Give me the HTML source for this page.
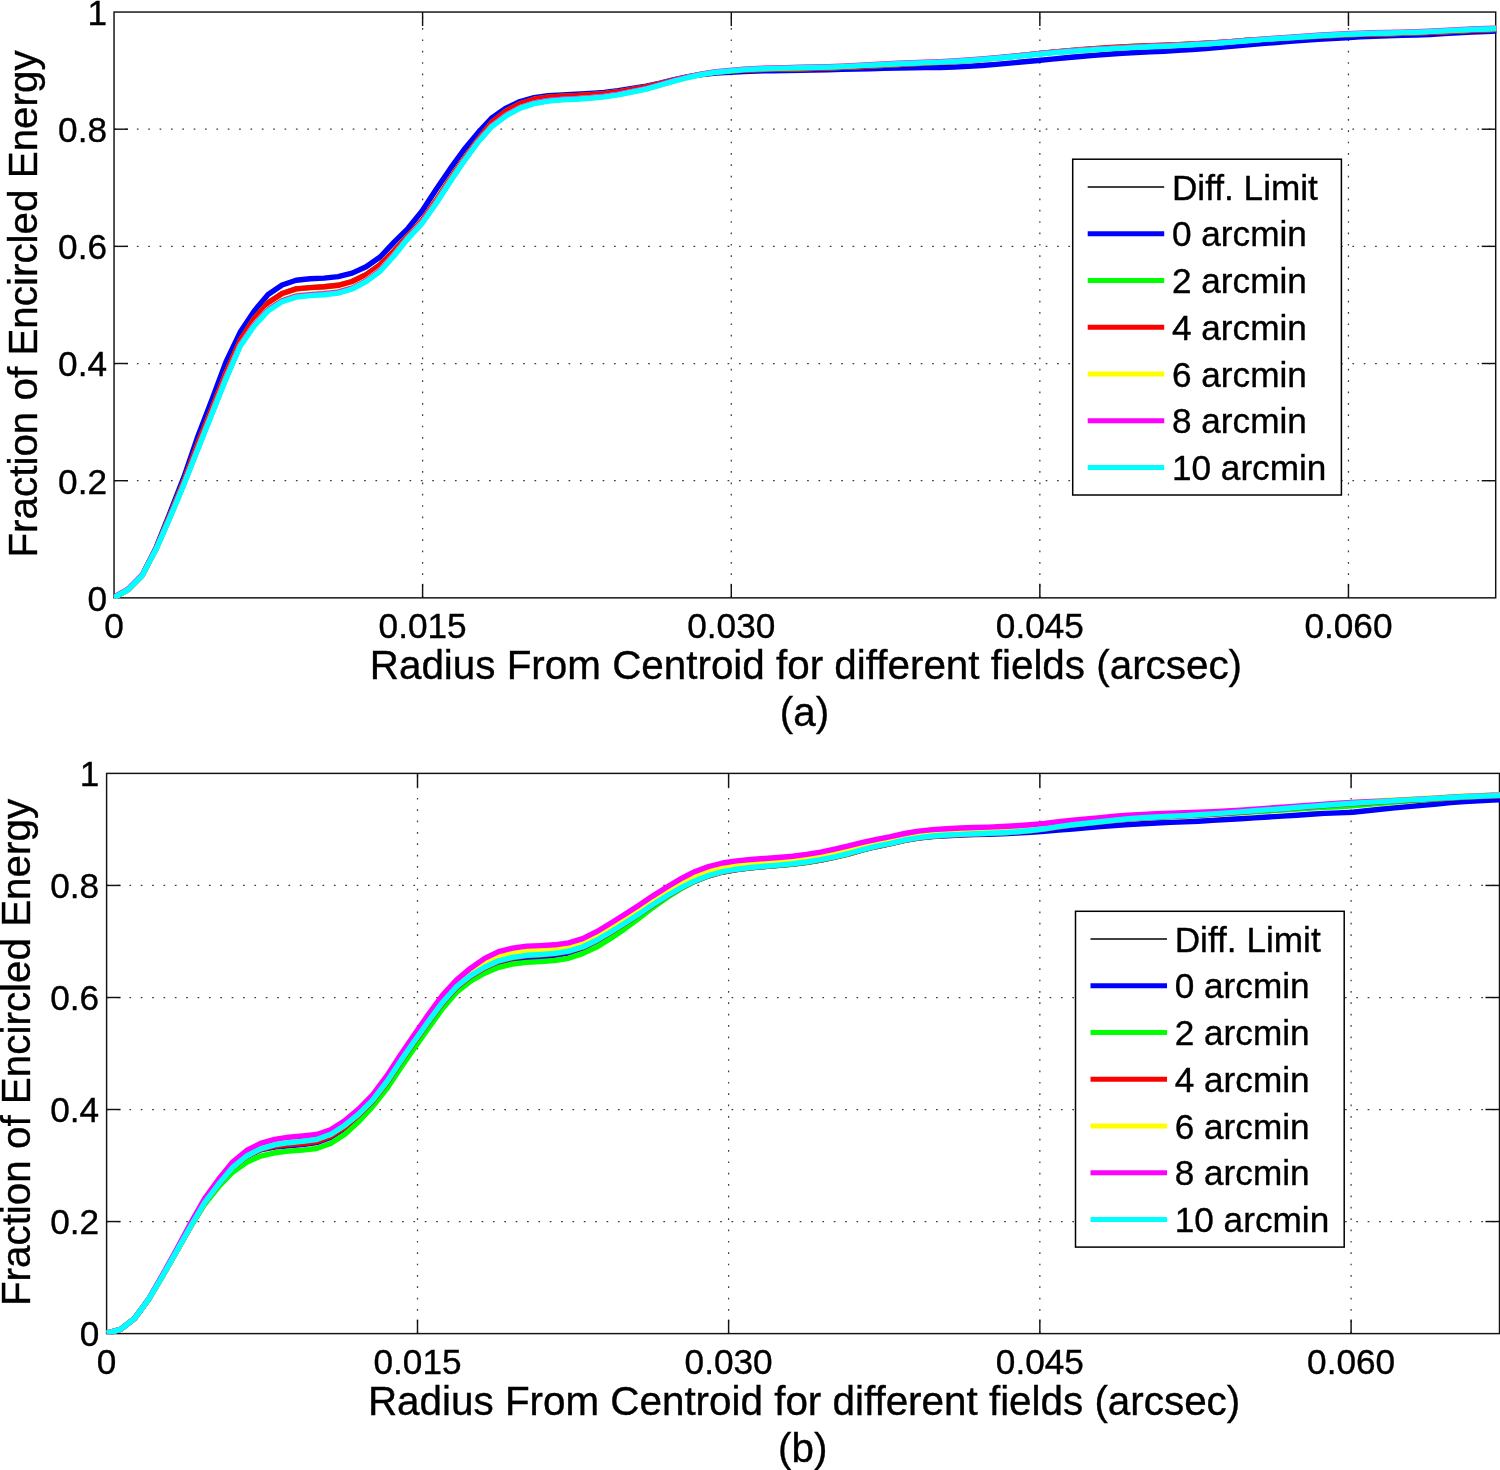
<!DOCTYPE html>
<html><head><meta charset="utf-8"><title>Encircled Energy</title>
<style>
html,body{margin:0;padding:0;background:#fff;}
body{width:1500px;height:1470px;overflow:hidden;}
svg{display:block;}
text{font-family:"Liberation Sans",Arial,Helvetica,sans-serif;fill:#000;stroke:#000;stroke-width:0.35px;}
.tk{font-size:35.2px;}
.lb{font-size:40.4px;}
.ax{fill:none;stroke:#111;stroke-width:1.45;}
.gr{stroke:#3c3c3c;stroke-width:1.25;stroke-dasharray:1.7 9.66;stroke-dashoffset:-0.1;fill:none;}
</style></head><body>
<svg width="1500" height="1470" viewBox="0 0 1500 1470">
<rect width="1500" height="1470" fill="#fff"/>
<clipPath id="ca"><rect x="113.85" y="12.05" width="1382.5500000000002" height="586.6"/></clipPath>
<line class="gr" x1="422.6" y1="597.85" x2="422.6" y2="12.05"/>
<line class="gr" x1="731.3" y1="597.85" x2="731.3" y2="12.05"/>
<line class="gr" x1="1039.85" y1="597.85" x2="1039.85" y2="12.05"/>
<line class="gr" x1="1348.45" y1="597.85" x2="1348.45" y2="12.05"/>
<line class="gr" x1="114.05" y1="480.7" x2="1495.7" y2="480.7"/>
<line class="gr" x1="114.05" y1="363.5" x2="1495.7" y2="363.5"/>
<line class="gr" x1="114.05" y1="246.35" x2="1495.7" y2="246.35"/>
<line class="gr" x1="114.05" y1="129.2" x2="1495.7" y2="129.2"/>
<rect class="ax" x="114.05" y="12.05" width="1381.65" height="585.8000000000001"/>
<line class="ax" x1="422.6" y1="597.85" x2="422.6" y2="583.85"/><line class="ax" x1="422.6" y1="12.05" x2="422.6" y2="26.05"/>
<line class="ax" x1="731.3" y1="597.85" x2="731.3" y2="583.85"/><line class="ax" x1="731.3" y1="12.05" x2="731.3" y2="26.05"/>
<line class="ax" x1="1039.85" y1="597.85" x2="1039.85" y2="583.85"/><line class="ax" x1="1039.85" y1="12.05" x2="1039.85" y2="26.05"/>
<line class="ax" x1="1348.45" y1="597.85" x2="1348.45" y2="583.85"/><line class="ax" x1="1348.45" y1="12.05" x2="1348.45" y2="26.05"/>
<line class="ax" x1="114.05" y1="480.7" x2="128.05" y2="480.7"/><line class="ax" x1="1495.7" y1="480.7" x2="1481.7" y2="480.7"/>
<line class="ax" x1="114.05" y1="363.5" x2="128.05" y2="363.5"/><line class="ax" x1="1495.7" y1="363.5" x2="1481.7" y2="363.5"/>
<line class="ax" x1="114.05" y1="246.35" x2="128.05" y2="246.35"/><line class="ax" x1="1495.7" y1="246.35" x2="1481.7" y2="246.35"/>
<line class="ax" x1="114.05" y1="129.2" x2="128.05" y2="129.2"/><line class="ax" x1="1495.7" y1="129.2" x2="1481.7" y2="129.2"/>
<g clip-path="url(#ca)" fill="none" stroke-linejoin="round">
<path d="M114.0 597.6 L128.1 589.6 L142.1 575.4 L156.1 547.6 L170.1 512.4 L184.1 476.6 L198.1 435.6 L212.1 399.1 L226.1 361.7 L240.1 332.3 L254.1 311.2 L268.1 294.5 L282.1 285.0 L296.1 280.2 L310.1 278.8 L324.1 278.1 L338.1 276.6 L352.1 273.1 L366.1 266.7 L380.1 257.0 L394.1 242.1 L408.1 228.3 L422.1 211.0 L436.1 189.5 L450.1 168.9 L464.1 149.5 L478.1 132.6 L492.1 117.7 L506.1 108.1 L520.1 101.5 L534.1 97.6 L548.1 95.7 L562.1 95.0 L576.1 94.3 L590.1 93.5 L604.1 92.4 L618.1 90.7 L632.1 88.4 L646.1 86.1 L660.1 83.1 L674.1 79.7 L688.1 76.7 L702.1 74.5 L716.1 73.1 L730.1 72.4 L744.1 71.5 L758.1 71.0 L772.1 70.7 L786.1 70.5 L800.1 70.3 L814.1 70.0 L828.1 69.7 L842.1 69.4 L856.1 69.1 L870.1 68.8 L884.1 68.4 L898.1 68.1 L912.1 67.8 L926.1 67.6 L940.1 67.6 L954.1 67.1 L968.1 66.4 L982.1 65.5 L996.1 64.4 L1010.1 63.1 L1024.1 61.8 L1038.1 60.5 L1052.1 59.1 L1066.1 57.7 L1080.1 56.5 L1094.1 55.4 L1108.1 54.3 L1122.1 53.3 L1136.1 52.5 L1150.1 51.8 L1164.1 51.2 L1178.1 50.4 L1192.1 49.5 L1206.1 48.5 L1220.1 47.4 L1234.1 46.1 L1248.1 44.8 L1262.1 43.6 L1276.1 42.5 L1290.1 41.4 L1304.1 40.4 L1318.1 39.4 L1332.1 38.5 L1346.1 37.7 L1360.1 36.9 L1374.1 36.3 L1388.1 35.8 L1402.1 35.4 L1416.1 35.1 L1430.1 34.5 L1444.1 33.6 L1458.1 32.8 L1472.1 32.1 L1486.1 31.5 L1496.7 31.0" stroke="#000" stroke-width="1.2"/>
<path d="M114.0 597.6 L128.1 589.6 L142.1 575.4 L156.1 547.6 L170.1 512.4 L184.1 476.6 L198.1 435.6 L212.1 399.1 L226.1 361.7 L240.1 332.3 L254.1 311.2 L268.1 294.5 L282.1 285.0 L296.1 280.2 L310.1 278.8 L324.1 278.1 L338.1 276.6 L352.1 273.1 L366.1 266.7 L380.1 257.0 L394.1 242.1 L408.1 228.3 L422.1 211.0 L436.1 189.5 L450.1 168.9 L464.1 149.5 L478.1 132.6 L492.1 117.7 L506.1 108.1 L520.1 101.5 L534.1 97.6 L548.1 95.7 L562.1 95.0 L576.1 94.3 L590.1 93.5 L604.1 92.4 L618.1 90.7 L632.1 88.4 L646.1 86.1 L660.1 83.1 L674.1 79.7 L688.1 76.7 L702.1 74.5 L716.1 73.1 L730.1 72.4 L744.1 71.5 L758.1 71.0 L772.1 70.7 L786.1 70.5 L800.1 70.3 L814.1 70.0 L828.1 69.7 L842.1 69.4 L856.1 69.1 L870.1 68.8 L884.1 68.4 L898.1 68.1 L912.1 67.8 L926.1 67.6 L940.1 67.6 L954.1 67.1 L968.1 66.4 L982.1 65.5 L996.1 64.4 L1010.1 63.1 L1024.1 61.8 L1038.1 60.5 L1052.1 59.1 L1066.1 57.7 L1080.1 56.5 L1094.1 55.4 L1108.1 54.3 L1122.1 53.3 L1136.1 52.5 L1150.1 51.8 L1164.1 51.2 L1178.1 50.4 L1192.1 49.5 L1206.1 48.5 L1220.1 47.4 L1234.1 46.1 L1248.1 44.8 L1262.1 43.6 L1276.1 42.5 L1290.1 41.4 L1304.1 40.4 L1318.1 39.4 L1332.1 38.5 L1346.1 37.7 L1360.1 36.9 L1374.1 36.3 L1388.1 35.8 L1402.1 35.4 L1416.1 35.1 L1430.1 34.5 L1444.1 33.6 L1458.1 32.8 L1472.1 32.1 L1486.1 31.5 L1496.7 31.0" stroke="#0000ff" stroke-width="5.4"/>
<path d="M114.0 597.6 L128.1 589.6 L142.1 575.5 L156.1 548.5 L170.1 515.1 L184.1 480.6 L198.1 443.1 L212.1 408.4 L226.1 372.7 L240.1 340.8 L254.1 318.8 L268.1 302.7 L282.1 293.5 L296.1 288.9 L310.1 287.6 L324.1 286.8 L338.1 285.3 L352.1 281.5 L366.1 274.7 L380.1 264.7 L394.1 250.8 L408.1 235.5 L422.1 220.6 L436.1 200.4 L450.1 179.0 L464.1 158.5 L478.1 139.7 L492.1 121.8 L506.1 111.2 L520.1 103.7 L534.1 99.2 L548.1 97.1 L562.1 96.3 L576.1 95.6 L590.1 94.8 L604.1 93.6 L618.1 91.8 L632.1 89.5 L646.1 87.0 L660.1 83.7 L674.1 80.1 L688.1 76.8 L702.1 74.1 L716.1 72.2 L730.1 71.1 L744.1 70.0 L758.1 69.5 L772.1 69.2 L786.1 69.0 L800.1 68.7 L814.1 68.4 L828.1 68.0 L842.1 67.4 L856.1 66.7 L870.1 66.0 L884.1 65.2 L898.1 64.5 L912.1 63.7 L926.1 63.1 L940.1 62.4 L954.1 61.6 L968.1 60.6 L982.1 59.4 L996.1 58.1 L1010.1 56.7 L1024.1 55.2 L1038.1 53.7 L1052.1 52.2 L1066.1 50.9 L1080.1 49.7 L1094.1 48.7 L1108.1 47.8 L1122.1 47.0 L1136.1 46.3 L1150.1 45.7 L1164.1 45.2 L1178.1 44.7 L1192.1 44.0 L1206.1 43.3 L1220.1 42.4 L1234.1 41.4 L1248.1 40.3 L1262.1 39.4 L1276.1 38.6 L1290.1 37.8 L1304.1 36.9 L1318.1 36.2 L1332.1 35.5 L1346.1 34.9 L1360.1 34.4 L1374.1 34.0 L1388.1 33.7 L1402.1 33.3 L1416.1 32.9 L1430.1 32.4 L1444.1 31.7 L1458.1 31.0 L1472.1 30.3 L1486.1 29.8 L1496.7 29.4" stroke="#00ff00" stroke-width="5.4"/>
<path d="M114.0 597.6 L128.1 589.6 L142.1 575.5 L156.1 548.5 L170.1 515.1 L184.1 480.6 L198.1 443.1 L212.1 408.4 L226.1 372.7 L240.1 340.8 L254.1 318.8 L268.1 302.7 L282.1 293.5 L296.1 288.9 L310.1 287.6 L324.1 286.8 L338.1 285.3 L352.1 281.5 L366.1 274.7 L380.1 264.7 L394.1 250.8 L408.1 235.5 L422.1 220.6 L436.1 200.4 L450.1 179.0 L464.1 158.5 L478.1 139.7 L492.1 121.8 L506.1 111.2 L520.1 103.7 L534.1 99.2 L548.1 97.1 L562.1 96.3 L576.1 95.6 L590.1 94.8 L604.1 93.6 L618.1 91.8 L632.1 89.5 L646.1 87.0 L660.1 83.7 L674.1 80.1 L688.1 76.8 L702.1 74.1 L716.1 72.2 L730.1 71.1 L744.1 70.0 L758.1 69.5 L772.1 69.2 L786.1 69.0 L800.1 68.7 L814.1 68.4 L828.1 68.0 L842.1 67.4 L856.1 66.7 L870.1 66.0 L884.1 65.2 L898.1 64.5 L912.1 63.7 L926.1 63.1 L940.1 62.4 L954.1 61.6 L968.1 60.6 L982.1 59.4 L996.1 58.1 L1010.1 56.7 L1024.1 55.2 L1038.1 53.7 L1052.1 52.2 L1066.1 50.9 L1080.1 49.7 L1094.1 48.7 L1108.1 47.8 L1122.1 47.0 L1136.1 46.3 L1150.1 45.7 L1164.1 45.2 L1178.1 44.7 L1192.1 44.0 L1206.1 43.3 L1220.1 42.4 L1234.1 41.4 L1248.1 40.3 L1262.1 39.4 L1276.1 38.6 L1290.1 37.8 L1304.1 36.9 L1318.1 36.2 L1332.1 35.5 L1346.1 34.9 L1360.1 34.4 L1374.1 34.0 L1388.1 33.7 L1402.1 33.3 L1416.1 32.9 L1430.1 32.4 L1444.1 31.7 L1458.1 31.0 L1472.1 30.3 L1486.1 29.8 L1496.7 29.4" stroke="#ff0000" stroke-width="5.4"/>
<path d="M114.0 597.6 L128.1 589.6 L142.1 575.6 L156.1 549.2 L170.1 516.9 L184.1 483.2 L198.1 447.4 L212.1 412.3 L226.1 377.1 L240.1 345.0 L254.1 324.7 L268.1 309.3 L282.1 300.3 L296.1 295.5 L310.1 294.1 L324.1 293.2 L338.1 291.6 L352.1 287.6 L366.1 280.4 L380.1 270.0 L394.1 254.5 L408.1 237.4 L422.1 222.2 L436.1 202.3 L450.1 180.7 L464.1 160.0 L478.1 141.2 L492.1 125.6 L506.1 115.1 L520.1 107.5 L534.1 103.0 L548.1 100.6 L562.1 99.5 L576.1 98.7 L590.1 97.8 L604.1 96.5 L618.1 94.4 L632.1 91.7 L646.1 88.9 L660.1 85.0 L674.1 81.0 L688.1 77.4 L702.1 74.1 L716.1 71.9 L730.1 70.6 L744.1 69.3 L758.1 68.6 L772.1 68.2 L786.1 67.8 L800.1 67.5 L814.1 67.2 L828.1 66.8 L842.1 66.3 L856.1 65.6 L870.1 64.8 L884.1 64.2 L898.1 63.5 L912.1 62.9 L926.1 62.3 L940.1 61.8 L954.1 61.1 L968.1 60.2 L982.1 59.1 L996.1 58.0 L1010.1 56.7 L1024.1 55.3 L1038.1 53.9 L1052.1 52.6 L1066.1 51.4 L1080.1 50.3 L1094.1 49.5 L1108.1 48.6 L1122.1 47.8 L1136.1 47.1 L1150.1 46.5 L1164.1 45.9 L1178.1 45.3 L1192.1 44.5 L1206.1 43.7 L1220.1 42.7 L1234.1 41.6 L1248.1 40.4 L1262.1 39.3 L1276.1 38.3 L1290.1 37.4 L1304.1 36.4 L1318.1 35.5 L1332.1 34.7 L1346.1 34.0 L1360.1 33.5 L1374.1 33.0 L1388.1 32.7 L1402.1 32.3 L1416.1 31.9 L1430.1 31.3 L1444.1 30.6 L1458.1 29.9 L1472.1 29.2 L1486.1 28.7 L1496.7 28.3" stroke="#ffff00" stroke-width="5.4"/>
<path d="M114.0 597.0 L128.1 589.0 L142.1 575.0 L156.1 548.7 L170.1 516.8 L184.1 483.3 L198.1 447.8 L212.1 412.8 L226.1 377.6 L240.1 345.4 L254.1 325.1 L268.1 309.8 L282.1 300.8 L296.1 296.1 L310.1 294.6 L324.1 293.7 L338.1 292.1 L352.1 288.1 L366.1 280.8 L380.1 270.4 L394.1 254.9 L408.1 237.7 L422.1 222.6 L436.1 202.7 L450.1 181.1 L464.1 160.4 L478.1 141.4 L492.1 125.7 L506.1 115.2 L520.1 107.5 L534.1 103.0 L548.1 100.5 L562.1 99.3 L576.1 98.6 L590.1 97.6 L604.1 96.3 L618.1 94.2 L632.1 91.4 L646.1 88.6 L660.1 84.6 L674.1 80.6 L688.1 76.9 L702.1 73.9 L716.1 71.7 L730.1 70.4 L744.1 69.1 L758.1 68.4 L772.1 68.0 L786.1 67.6 L800.1 67.3 L814.1 67.0 L828.1 66.6 L842.1 66.1 L856.1 65.4 L870.1 64.6 L884.1 64.0 L898.1 63.3 L912.1 62.7 L926.1 62.1 L940.1 61.6 L954.1 60.9 L968.1 60.0 L982.1 58.9 L996.1 57.8 L1010.1 56.5 L1024.1 55.1 L1038.1 53.7 L1052.1 52.4 L1066.1 51.2 L1080.1 50.1 L1094.1 49.3 L1108.1 48.4 L1122.1 47.6 L1136.1 46.9 L1150.1 46.3 L1164.1 45.7 L1178.1 45.1 L1192.1 44.3 L1206.1 43.5 L1220.1 42.5 L1234.1 41.4 L1248.1 40.2 L1262.1 39.1 L1276.1 38.1 L1290.1 37.2 L1304.1 36.2 L1318.1 35.3 L1332.1 34.5 L1346.1 33.8 L1360.1 33.3 L1374.1 32.8 L1388.1 32.5 L1402.1 32.1 L1416.1 31.7 L1430.1 31.1 L1444.1 30.4 L1458.1 29.7 L1472.1 29.0 L1486.1 28.5 L1496.7 28.1" stroke="#ff00ff" stroke-width="5.4"/>
<path d="M114.0 597.6 L128.1 589.6 L142.1 575.6 L156.1 549.3 L170.1 517.4 L184.1 483.9 L198.1 448.6 L212.1 413.6 L226.1 378.6 L240.1 346.2 L254.1 326.0 L268.1 310.8 L282.1 301.8 L296.1 297.1 L310.1 295.6 L324.1 294.7 L338.1 293.1 L352.1 289.0 L366.1 281.7 L380.1 271.3 L394.1 255.7 L408.1 238.3 L422.1 223.3 L436.1 203.5 L450.1 181.8 L464.1 161.1 L478.1 142.0 L492.1 126.3 L506.1 115.8 L520.1 108.1 L534.1 103.6 L548.1 101.1 L562.1 99.9 L576.1 99.2 L590.1 98.2 L604.1 96.9 L618.1 94.8 L632.1 92.0 L646.1 89.2 L660.1 85.2 L674.1 81.2 L688.1 77.5 L702.1 74.4 L716.1 72.2 L730.1 70.9 L744.1 69.6 L758.1 68.9 L772.1 68.5 L786.1 68.1 L800.1 67.8 L814.1 67.5 L828.1 67.1 L842.1 66.6 L856.1 65.9 L870.1 65.1 L884.1 64.5 L898.1 63.8 L912.1 63.2 L926.1 62.6 L940.1 62.1 L954.1 61.4 L968.1 60.5 L982.1 59.4 L996.1 58.3 L1010.1 57.0 L1024.1 55.6 L1038.1 54.2 L1052.1 52.9 L1066.1 51.7 L1080.1 50.6 L1094.1 49.8 L1108.1 48.9 L1122.1 48.1 L1136.1 47.4 L1150.1 46.8 L1164.1 46.2 L1178.1 45.6 L1192.1 44.8 L1206.1 44.0 L1220.1 43.0 L1234.1 41.9 L1248.1 40.7 L1262.1 39.6 L1276.1 38.6 L1290.1 37.7 L1304.1 36.7 L1318.1 35.8 L1332.1 35.0 L1346.1 34.3 L1360.1 33.8 L1374.1 33.3 L1388.1 33.0 L1402.1 32.6 L1416.1 32.2 L1430.1 31.6 L1444.1 30.9 L1458.1 30.2 L1472.1 29.5 L1486.1 29.0 L1496.7 28.6" stroke="#00ffff" stroke-width="5.4"/>
</g>
<text class="tk" transform="translate(114.05 638.2) scale(1 1.015)" text-anchor="middle">0</text>
<text class="tk" transform="translate(422.6 638.2) scale(1 1.015)" text-anchor="middle">0.015</text>
<text class="tk" transform="translate(731.3 638.2) scale(1 1.015)" text-anchor="middle">0.030</text>
<text class="tk" transform="translate(1039.85 638.2) scale(1 1.015)" text-anchor="middle">0.045</text>
<text class="tk" transform="translate(1348.45 638.2) scale(1 1.015)" text-anchor="middle">0.060</text>
<text class="tk" transform="translate(107 610.65) scale(1 1.015)" text-anchor="end">0</text>
<text class="tk" transform="translate(107 493.5) scale(1 1.015)" text-anchor="end">0.2</text>
<text class="tk" transform="translate(107 376.3) scale(1 1.015)" text-anchor="end">0.4</text>
<text class="tk" transform="translate(107 259.15) scale(1 1.015)" text-anchor="end">0.6</text>
<text class="tk" transform="translate(107 142.0) scale(1 1.015)" text-anchor="end">0.8</text>
<text class="tk" transform="translate(107 24.85) scale(1 1.015)" text-anchor="end">1</text>
<text class="lb" transform="translate(805.925 679.4) scale(1 1.012)" text-anchor="middle">Radius From Centroid for different fields (arcsec)</text>
<text class="lb" transform="translate(804.475 726.3) scale(1 1.012)" text-anchor="middle">(a)</text>
<text class="lb" transform="translate(37.2 303.95) rotate(-90) scale(1 1.012)" text-anchor="middle">Fraction of Encircled Energy</text>
<rect x="1072.7" y="159.2" width="268.7" height="335.8" fill="#fff" stroke="#000" stroke-width="1.5"/>
<line x1="1087.7" y1="186.89999999999998" x2="1164.2" y2="186.89999999999998" stroke="#000" stroke-width="1.5"/>
<text class="tk" transform="translate(1171.9 199.49999999999997) scale(1 1.015)" text-anchor="start">Diff. Limit</text>
<line x1="1087.7" y1="233.64999999999998" x2="1164.2" y2="233.64999999999998" stroke="#0000ff" stroke-width="5"/>
<text class="tk" transform="translate(1171.9 246.24999999999997) scale(1 1.015)" text-anchor="start">0 arcmin</text>
<line x1="1087.7" y1="280.4" x2="1164.2" y2="280.4" stroke="#00ff00" stroke-width="5"/>
<text class="tk" transform="translate(1171.9 293.0) scale(1 1.015)" text-anchor="start">2 arcmin</text>
<line x1="1087.7" y1="327.15" x2="1164.2" y2="327.15" stroke="#ff0000" stroke-width="5"/>
<text class="tk" transform="translate(1171.9 339.75) scale(1 1.015)" text-anchor="start">4 arcmin</text>
<line x1="1087.7" y1="373.9" x2="1164.2" y2="373.9" stroke="#ffff00" stroke-width="5"/>
<text class="tk" transform="translate(1171.9 386.5) scale(1 1.015)" text-anchor="start">6 arcmin</text>
<line x1="1087.7" y1="420.65" x2="1164.2" y2="420.65" stroke="#ff00ff" stroke-width="5"/>
<text class="tk" transform="translate(1171.9 433.25) scale(1 1.015)" text-anchor="start">8 arcmin</text>
<line x1="1087.7" y1="467.4" x2="1164.2" y2="467.4" stroke="#00ffff" stroke-width="5"/>
<text class="tk" transform="translate(1171.9 480.0) scale(1 1.015)" text-anchor="start">10 arcmin</text>
<clipPath id="cb"><rect x="106.39999999999999" y="773.4" width="1393.8000000000002" height="560.9999999999999"/></clipPath>
<line class="gr" x1="417.5" y1="1333.6" x2="417.5" y2="773.4"/>
<line class="gr" x1="728.6" y1="1333.6" x2="728.6" y2="773.4"/>
<line class="gr" x1="1039.85" y1="1333.6" x2="1039.85" y2="773.4"/>
<line class="gr" x1="1351.1" y1="1333.6" x2="1351.1" y2="773.4"/>
<line class="gr" x1="106.6" y1="1221.55" x2="1499.5" y2="1221.55"/>
<line class="gr" x1="106.6" y1="1109.5" x2="1499.5" y2="1109.5"/>
<line class="gr" x1="106.6" y1="997.5" x2="1499.5" y2="997.5"/>
<line class="gr" x1="106.6" y1="885.45" x2="1499.5" y2="885.45"/>
<rect class="ax" x="106.6" y="773.4" width="1392.9" height="560.1999999999999"/>
<line class="ax" x1="417.5" y1="1333.6" x2="417.5" y2="1319.6"/><line class="ax" x1="417.5" y1="773.4" x2="417.5" y2="787.4"/>
<line class="ax" x1="728.6" y1="1333.6" x2="728.6" y2="1319.6"/><line class="ax" x1="728.6" y1="773.4" x2="728.6" y2="787.4"/>
<line class="ax" x1="1039.85" y1="1333.6" x2="1039.85" y2="1319.6"/><line class="ax" x1="1039.85" y1="773.4" x2="1039.85" y2="787.4"/>
<line class="ax" x1="1351.1" y1="1333.6" x2="1351.1" y2="1319.6"/><line class="ax" x1="1351.1" y1="773.4" x2="1351.1" y2="787.4"/>
<line class="ax" x1="106.6" y1="1221.55" x2="120.6" y2="1221.55"/><line class="ax" x1="1499.5" y1="1221.55" x2="1485.5" y2="1221.55"/>
<line class="ax" x1="106.6" y1="1109.5" x2="120.6" y2="1109.5"/><line class="ax" x1="1499.5" y1="1109.5" x2="1485.5" y2="1109.5"/>
<line class="ax" x1="106.6" y1="997.5" x2="120.6" y2="997.5"/><line class="ax" x1="1499.5" y1="997.5" x2="1485.5" y2="997.5"/>
<line class="ax" x1="106.6" y1="885.45" x2="120.6" y2="885.45"/><line class="ax" x1="1499.5" y1="885.45" x2="1485.5" y2="885.45"/>
<g clip-path="url(#cb)" fill="none" stroke-linejoin="round">
<path d="M106.6 1333.2 L120.6 1329.3 L134.6 1318.4 L148.6 1299.4 L162.6 1275.9 L176.6 1251.2 L190.6 1226.4 L204.6 1202.9 L218.6 1184.3 L232.6 1167.7 L246.6 1156.5 L260.6 1149.9 L274.6 1147.1 L288.6 1145.9 L302.6 1144.6 L316.6 1142.6 L330.6 1137.5 L344.6 1128.5 L358.6 1116.8 L372.6 1102.5 L386.6 1083.7 L400.6 1062.4 L414.6 1042.2 L428.6 1022.3 L442.6 1003.4 L456.6 987.8 L470.6 976.7 L484.6 968.3 L498.6 962.7 L512.6 959.8 L526.6 958.0 L540.6 957.0 L554.6 955.5 L568.6 952.8 L582.6 948.2 L596.6 941.2 L610.6 932.7 L624.6 923.8 L638.6 914.7 L652.6 905.3 L666.6 896.3 L680.6 888.2 L694.6 881.2 L708.6 875.8 L722.6 872.0 L736.6 869.5 L750.6 867.8 L764.6 866.6 L778.6 865.4 L792.6 864.1 L806.6 862.3 L820.6 860.0 L834.6 857.1 L848.6 853.8 L862.6 849.9 L876.6 846.5 L890.6 843.6 L904.6 840.3 L918.6 838.0 L932.6 836.6 L946.6 835.7 L960.6 835.1 L974.6 834.6 L988.6 834.2 L1002.6 833.8 L1016.6 833.1 L1030.6 832.2 L1044.6 831.2 L1058.6 830.1 L1072.6 829.0 L1086.6 827.8 L1100.6 826.6 L1114.6 825.5 L1128.6 824.6 L1142.6 823.7 L1156.6 823.0 L1170.6 822.4 L1184.6 821.9 L1198.6 821.2 L1212.6 820.4 L1226.6 819.5 L1240.6 818.7 L1254.6 817.9 L1268.6 817.0 L1282.6 816.1 L1296.6 815.2 L1310.6 814.2 L1324.6 813.4 L1338.6 812.9 L1352.6 812.2 L1366.6 810.8 L1380.6 809.3 L1394.6 807.9 L1408.6 806.6 L1422.6 805.3 L1436.6 804.0 L1450.6 802.6 L1464.6 801.5 L1478.6 800.7 L1492.6 800.0 L1500.5 799.7" stroke="#000" stroke-width="1.2"/>
<path d="M106.6 1333.2 L120.6 1329.3 L134.6 1318.4 L148.6 1299.4 L162.6 1275.9 L176.6 1251.2 L190.6 1226.4 L204.6 1202.9 L218.6 1184.3 L232.6 1167.7 L246.6 1156.5 L260.6 1149.9 L274.6 1147.1 L288.6 1145.9 L302.6 1144.6 L316.6 1142.6 L330.6 1137.5 L344.6 1128.5 L358.6 1116.8 L372.6 1102.5 L386.6 1083.7 L400.6 1062.4 L414.6 1042.2 L428.6 1022.3 L442.6 1003.4 L456.6 987.8 L470.6 976.7 L484.6 968.3 L498.6 962.7 L512.6 959.8 L526.6 958.0 L540.6 957.0 L554.6 955.5 L568.6 952.8 L582.6 948.2 L596.6 941.2 L610.6 932.7 L624.6 923.8 L638.6 914.7 L652.6 905.3 L666.6 896.3 L680.6 888.2 L694.6 881.2 L708.6 875.8 L722.6 872.0 L736.6 869.5 L750.6 867.8 L764.6 866.6 L778.6 865.4 L792.6 864.1 L806.6 862.3 L820.6 860.0 L834.6 857.1 L848.6 853.8 L862.6 849.9 L876.6 846.5 L890.6 843.6 L904.6 840.3 L918.6 838.0 L932.6 836.6 L946.6 835.7 L960.6 835.1 L974.6 834.6 L988.6 834.2 L1002.6 833.8 L1016.6 833.1 L1030.6 832.2 L1044.6 831.2 L1058.6 830.1 L1072.6 829.0 L1086.6 827.8 L1100.6 826.6 L1114.6 825.5 L1128.6 824.6 L1142.6 823.7 L1156.6 823.0 L1170.6 822.4 L1184.6 821.9 L1198.6 821.2 L1212.6 820.4 L1226.6 819.5 L1240.6 818.7 L1254.6 817.9 L1268.6 817.0 L1282.6 816.1 L1296.6 815.2 L1310.6 814.2 L1324.6 813.4 L1338.6 812.9 L1352.6 812.2 L1366.6 810.8 L1380.6 809.3 L1394.6 807.9 L1408.6 806.6 L1422.6 805.3 L1436.6 804.0 L1450.6 802.6 L1464.6 801.5 L1478.6 800.7 L1492.6 800.0 L1500.5 799.7" stroke="#0000ff" stroke-width="5.4"/>
<path d="M106.6 1333.2 L120.6 1329.3 L134.6 1318.4 L148.6 1299.4 L162.6 1275.8 L176.6 1251.1 L190.6 1226.8 L204.6 1204.2 L218.6 1186.7 L232.6 1172.2 L246.6 1162.3 L260.6 1156.1 L274.6 1152.8 L288.6 1151.1 L302.6 1150.1 L316.6 1148.5 L330.6 1143.5 L344.6 1134.5 L358.6 1121.7 L372.6 1106.7 L386.6 1088.9 L400.6 1068.0 L414.6 1047.8 L428.6 1027.9 L442.6 1008.5 L456.6 992.2 L470.6 981.1 L484.6 973.2 L498.6 967.3 L512.6 964.0 L526.6 962.4 L540.6 961.6 L554.6 960.5 L568.6 958.3 L582.6 953.6 L596.6 947.1 L610.6 938.5 L624.6 928.9 L638.6 918.6 L652.6 907.7 L666.6 897.8 L680.6 889.0 L694.6 881.4 L708.6 875.9 L722.6 872.0 L736.6 869.5 L750.6 867.9 L764.6 866.6 L778.6 865.6 L792.6 864.3 L806.6 862.5 L820.6 860.1 L834.6 857.3 L848.6 854.0 L862.6 850.0 L876.6 846.5 L890.6 843.6 L904.6 840.3 L918.6 837.8 L932.6 836.2 L946.6 835.2 L960.6 834.4 L974.6 833.8 L988.6 833.3 L1002.6 832.7 L1016.6 831.8 L1030.6 830.5 L1044.6 828.8 L1058.6 826.7 L1072.6 824.8 L1086.6 823.2 L1100.6 821.9 L1114.6 820.3 L1128.6 818.9 L1142.6 817.9 L1156.6 817.2 L1170.6 816.5 L1184.6 815.9 L1198.6 815.2 L1212.6 814.4 L1226.6 813.6 L1240.6 812.8 L1254.6 811.9 L1268.6 811.0 L1282.6 810.0 L1296.6 809.1 L1310.6 808.1 L1324.6 807.2 L1338.6 806.7 L1352.6 805.9 L1366.6 804.6 L1380.6 803.2 L1394.6 802.1 L1408.6 801.1 L1422.6 800.1 L1436.6 799.1 L1450.6 798.0 L1464.6 797.1 L1478.6 796.4 L1492.6 795.8 L1500.5 795.6" stroke="#00ff00" stroke-width="5.4"/>
<path d="M106.6 1333.2 L120.6 1329.3 L134.6 1318.4 L148.6 1299.4 L162.6 1275.8 L176.6 1251.2 L190.6 1226.4 L204.6 1202.8 L218.6 1184.2 L232.6 1167.6 L246.6 1156.3 L260.6 1149.5 L274.6 1146.2 L288.6 1144.6 L302.6 1143.5 L316.6 1141.6 L330.6 1136.5 L344.6 1127.5 L358.6 1115.1 L372.6 1101.2 L386.6 1082.9 L400.6 1061.8 L414.6 1041.7 L428.6 1021.9 L442.6 1003.0 L456.6 987.5 L470.6 976.4 L484.6 968.0 L498.6 961.6 L512.6 958.0 L526.6 955.9 L540.6 955.1 L554.6 953.9 L568.6 951.7 L582.6 947.5 L596.6 940.8 L610.6 932.5 L624.6 923.7 L638.6 914.6 L652.6 905.2 L666.6 896.3 L680.6 888.2 L694.6 881.2 L708.6 875.8 L722.6 872.0 L736.6 869.5 L750.6 867.8 L764.6 866.6 L778.6 865.4 L792.6 864.1 L806.6 862.3 L820.6 860.0 L834.6 857.1 L848.6 853.8 L862.6 849.9 L876.6 846.5 L890.6 843.6 L904.6 840.3 L918.6 837.9 L932.6 836.3 L946.6 835.3 L960.6 834.7 L974.6 834.1 L988.6 833.6 L1002.6 833.0 L1016.6 832.1 L1030.6 830.8 L1044.6 829.1 L1058.6 827.0 L1072.6 825.1 L1086.6 823.5 L1100.6 822.1 L1114.6 820.5 L1128.6 819.1 L1142.6 818.1 L1156.6 817.3 L1170.6 816.6 L1184.6 815.9 L1198.6 815.1 L1212.6 814.2 L1226.6 813.2 L1240.6 812.2 L1254.6 811.1 L1268.6 810.1 L1282.6 809.0 L1296.6 807.8 L1310.6 806.7 L1324.6 805.6 L1338.6 804.5 L1352.6 803.6 L1366.6 802.7 L1380.6 801.9 L1394.6 801.0 L1408.6 800.2 L1422.6 799.5 L1436.6 798.7 L1450.6 797.8 L1464.6 797.1 L1478.6 796.5 L1492.6 795.9 L1500.5 795.7" stroke="#ff0000" stroke-width="5.4"/>
<path d="M106.6 1333.2 L120.6 1329.3 L134.6 1318.4 L148.6 1299.4 L162.6 1275.8 L176.6 1251.0 L190.6 1226.2 L204.6 1202.5 L218.6 1183.8 L232.6 1167.1 L246.6 1155.7 L260.6 1148.3 L274.6 1144.1 L288.6 1142.0 L302.6 1140.7 L316.6 1138.9 L330.6 1134.0 L344.6 1125.1 L358.6 1113.8 L372.6 1099.9 L386.6 1081.7 L400.6 1060.6 L414.6 1040.4 L428.6 1020.5 L442.6 1001.3 L456.6 985.4 L470.6 973.3 L484.6 963.6 L498.6 956.7 L512.6 952.8 L526.6 950.5 L540.6 949.7 L554.6 948.7 L568.6 946.5 L582.6 942.6 L596.6 936.1 L610.6 928.3 L624.6 919.8 L638.6 910.9 L652.6 901.6 L666.6 892.7 L680.6 884.3 L694.6 876.9 L708.6 871.4 L722.6 867.3 L736.6 864.7 L750.6 863.1 L764.6 862.0 L778.6 861.1 L792.6 859.9 L806.6 858.2 L820.6 856.0 L834.6 853.3 L848.6 850.1 L862.6 846.3 L876.6 842.9 L890.6 840.1 L904.6 836.8 L918.6 834.4 L932.6 832.8 L946.6 831.9 L960.6 831.3 L974.6 830.8 L988.6 830.4 L1002.6 830.0 L1016.6 829.4 L1030.6 828.3 L1044.6 826.9 L1058.6 824.9 L1072.6 823.3 L1086.6 821.8 L1100.6 820.6 L1114.6 819.1 L1128.6 817.7 L1142.6 816.8 L1156.6 816.1 L1170.6 815.5 L1184.6 814.8 L1198.6 814.0 L1212.6 813.1 L1226.6 812.1 L1240.6 811.1 L1254.6 810.0 L1268.6 809.0 L1282.6 807.9 L1296.6 806.7 L1310.6 805.6 L1324.6 804.5 L1338.6 803.4 L1352.6 802.5 L1366.6 801.6 L1380.6 800.8 L1394.6 800.0 L1408.6 799.2 L1422.6 798.4 L1436.6 797.6 L1450.6 796.8 L1464.6 796.0 L1478.6 795.4 L1492.6 794.9 L1500.5 794.7" stroke="#ffff00" stroke-width="5.4"/>
<path d="M106.6 1333.2 L120.6 1329.3 L134.6 1318.4 L148.6 1299.0 L162.6 1274.7 L176.6 1249.2 L190.6 1223.3 L204.6 1198.7 L218.6 1179.3 L232.6 1162.0 L246.6 1150.5 L260.6 1143.4 L274.6 1139.3 L288.6 1137.2 L302.6 1136.0 L316.6 1134.5 L330.6 1129.7 L344.6 1120.8 L358.6 1109.2 L372.6 1094.8 L386.6 1076.2 L400.6 1054.8 L414.6 1034.4 L428.6 1014.1 L442.6 995.0 L456.6 979.8 L470.6 968.2 L484.6 958.4 L498.6 951.6 L512.6 948.1 L526.6 946.1 L540.6 945.6 L554.6 944.8 L568.6 942.8 L582.6 938.7 L596.6 931.7 L610.6 923.3 L624.6 914.5 L638.6 905.5 L652.6 896.1 L666.6 887.2 L680.6 878.9 L694.6 871.7 L708.6 866.5 L722.6 863.0 L736.6 860.9 L750.6 859.5 L764.6 858.5 L778.6 857.5 L792.6 856.2 L806.6 854.4 L820.6 852.1 L834.6 849.2 L848.6 845.9 L862.6 842.4 L876.6 839.3 L890.6 836.6 L904.6 833.5 L918.6 831.1 L932.6 829.6 L946.6 828.7 L960.6 828.0 L974.6 827.5 L988.6 827.1 L1002.6 826.5 L1016.6 825.8 L1030.6 824.8 L1044.6 823.5 L1058.6 821.7 L1072.6 820.2 L1086.6 818.9 L1100.6 817.6 L1114.6 816.3 L1128.6 815.1 L1142.6 814.4 L1156.6 813.8 L1170.6 813.3 L1184.6 812.8 L1198.6 812.3 L1212.6 811.7 L1226.6 811.0 L1240.6 810.1 L1254.6 809.1 L1268.6 808.1 L1282.6 807.1 L1296.6 806.1 L1310.6 805.2 L1324.6 804.2 L1338.6 803.3 L1352.6 802.5 L1366.6 801.8 L1380.6 801.2 L1394.6 800.4 L1408.6 799.6 L1422.6 798.9 L1436.6 798.1 L1450.6 797.2 L1464.6 796.5 L1478.6 795.9 L1492.6 795.3 L1500.5 795.1" stroke="#ff00ff" stroke-width="5.4"/>
<path d="M106.6 1333.2 L120.6 1329.3 L134.6 1318.4 L148.6 1299.4 L162.6 1275.8 L176.6 1251.1 L190.6 1226.3 L204.6 1202.7 L218.6 1184.0 L232.6 1167.4 L246.6 1156.0 L260.6 1148.9 L274.6 1144.8 L288.6 1142.7 L302.6 1141.4 L316.6 1139.5 L330.6 1134.4 L344.6 1125.4 L358.6 1114.1 L372.6 1100.2 L386.6 1082.0 L400.6 1060.9 L414.6 1040.8 L428.6 1021.1 L442.6 1002.2 L456.6 986.6 L470.6 975.6 L484.6 967.2 L498.6 960.8 L512.6 957.4 L526.6 955.3 L540.6 954.5 L554.6 953.4 L568.6 951.2 L582.6 947.0 L596.6 940.3 L610.6 932.0 L624.6 923.2 L638.6 914.2 L652.6 904.8 L666.6 896.0 L680.6 887.9 L694.6 880.9 L708.6 875.5 L722.6 871.7 L736.6 869.2 L750.6 867.5 L764.6 866.3 L778.6 865.1 L792.6 863.8 L806.6 862.0 L820.6 859.7 L834.6 856.8 L848.6 853.5 L862.6 849.6 L876.6 846.2 L890.6 843.3 L904.6 840.0 L918.6 837.6 L932.6 836.0 L946.6 835.0 L960.6 834.4 L974.6 833.8 L988.6 833.3 L1002.6 832.7 L1016.6 831.8 L1030.6 830.5 L1044.6 828.8 L1058.6 826.7 L1072.6 824.8 L1086.6 823.2 L1100.6 821.8 L1114.6 820.2 L1128.6 818.8 L1142.6 817.8 L1156.6 817.0 L1170.6 816.3 L1184.6 815.6 L1198.6 814.8 L1212.6 813.9 L1226.6 812.9 L1240.6 811.9 L1254.6 810.8 L1268.6 809.8 L1282.6 808.7 L1296.6 807.5 L1310.6 806.4 L1324.6 805.3 L1338.6 804.2 L1352.6 803.3 L1366.6 802.4 L1380.6 801.6 L1394.6 800.7 L1408.6 799.9 L1422.6 799.2 L1436.6 798.4 L1450.6 797.5 L1464.6 796.8 L1478.6 796.2 L1492.6 795.6 L1500.5 795.4" stroke="#00ffff" stroke-width="5.4"/>
</g>
<text class="tk" transform="translate(106.6 1374.2) scale(1 1.015)" text-anchor="middle">0</text>
<text class="tk" transform="translate(417.5 1374.2) scale(1 1.015)" text-anchor="middle">0.015</text>
<text class="tk" transform="translate(728.6 1374.2) scale(1 1.015)" text-anchor="middle">0.030</text>
<text class="tk" transform="translate(1039.85 1374.2) scale(1 1.015)" text-anchor="middle">0.045</text>
<text class="tk" transform="translate(1351.1 1374.2) scale(1 1.015)" text-anchor="middle">0.060</text>
<text class="tk" transform="translate(99.2 1346.3999999999999) scale(1 1.015)" text-anchor="end">0</text>
<text class="tk" transform="translate(99.2 1234.35) scale(1 1.015)" text-anchor="end">0.2</text>
<text class="tk" transform="translate(99.2 1122.3) scale(1 1.015)" text-anchor="end">0.4</text>
<text class="tk" transform="translate(99.2 1010.3) scale(1 1.015)" text-anchor="end">0.6</text>
<text class="tk" transform="translate(99.2 898.25) scale(1 1.015)" text-anchor="end">0.8</text>
<text class="tk" transform="translate(99.2 786.1999999999999) scale(1 1.015)" text-anchor="end">1</text>
<text class="lb" transform="translate(804.0999999999999 1415.2) scale(1 1.012)" text-anchor="middle">Radius From Centroid for different fields (arcsec)</text>
<text class="lb" transform="translate(802.65 1462) scale(1 1.012)" text-anchor="middle">(b)</text>
<text class="lb" transform="translate(29.8 1052.5) rotate(-90) scale(1 1.012)" text-anchor="middle">Fraction of Encircled Energy</text>
<rect x="1075.5" y="911.3" width="268.7" height="335.8" fill="#fff" stroke="#000" stroke-width="1.5"/>
<line x1="1090.5" y1="939.0" x2="1167.0" y2="939.0" stroke="#000" stroke-width="1.5"/>
<text class="tk" transform="translate(1174.7 951.6) scale(1 1.015)" text-anchor="start">Diff. Limit</text>
<line x1="1090.5" y1="985.75" x2="1167.0" y2="985.75" stroke="#0000ff" stroke-width="5"/>
<text class="tk" transform="translate(1174.7 998.35) scale(1 1.015)" text-anchor="start">0 arcmin</text>
<line x1="1090.5" y1="1032.5" x2="1167.0" y2="1032.5" stroke="#00ff00" stroke-width="5"/>
<text class="tk" transform="translate(1174.7 1045.1) scale(1 1.015)" text-anchor="start">2 arcmin</text>
<line x1="1090.5" y1="1079.25" x2="1167.0" y2="1079.25" stroke="#ff0000" stroke-width="5"/>
<text class="tk" transform="translate(1174.7 1091.85) scale(1 1.015)" text-anchor="start">4 arcmin</text>
<line x1="1090.5" y1="1126.0" x2="1167.0" y2="1126.0" stroke="#ffff00" stroke-width="5"/>
<text class="tk" transform="translate(1174.7 1138.6) scale(1 1.015)" text-anchor="start">6 arcmin</text>
<line x1="1090.5" y1="1172.75" x2="1167.0" y2="1172.75" stroke="#ff00ff" stroke-width="5"/>
<text class="tk" transform="translate(1174.7 1185.35) scale(1 1.015)" text-anchor="start">8 arcmin</text>
<line x1="1090.5" y1="1219.5" x2="1167.0" y2="1219.5" stroke="#00ffff" stroke-width="5"/>
<text class="tk" transform="translate(1174.7 1232.1) scale(1 1.015)" text-anchor="start">10 arcmin</text>
</svg>
</body></html>
